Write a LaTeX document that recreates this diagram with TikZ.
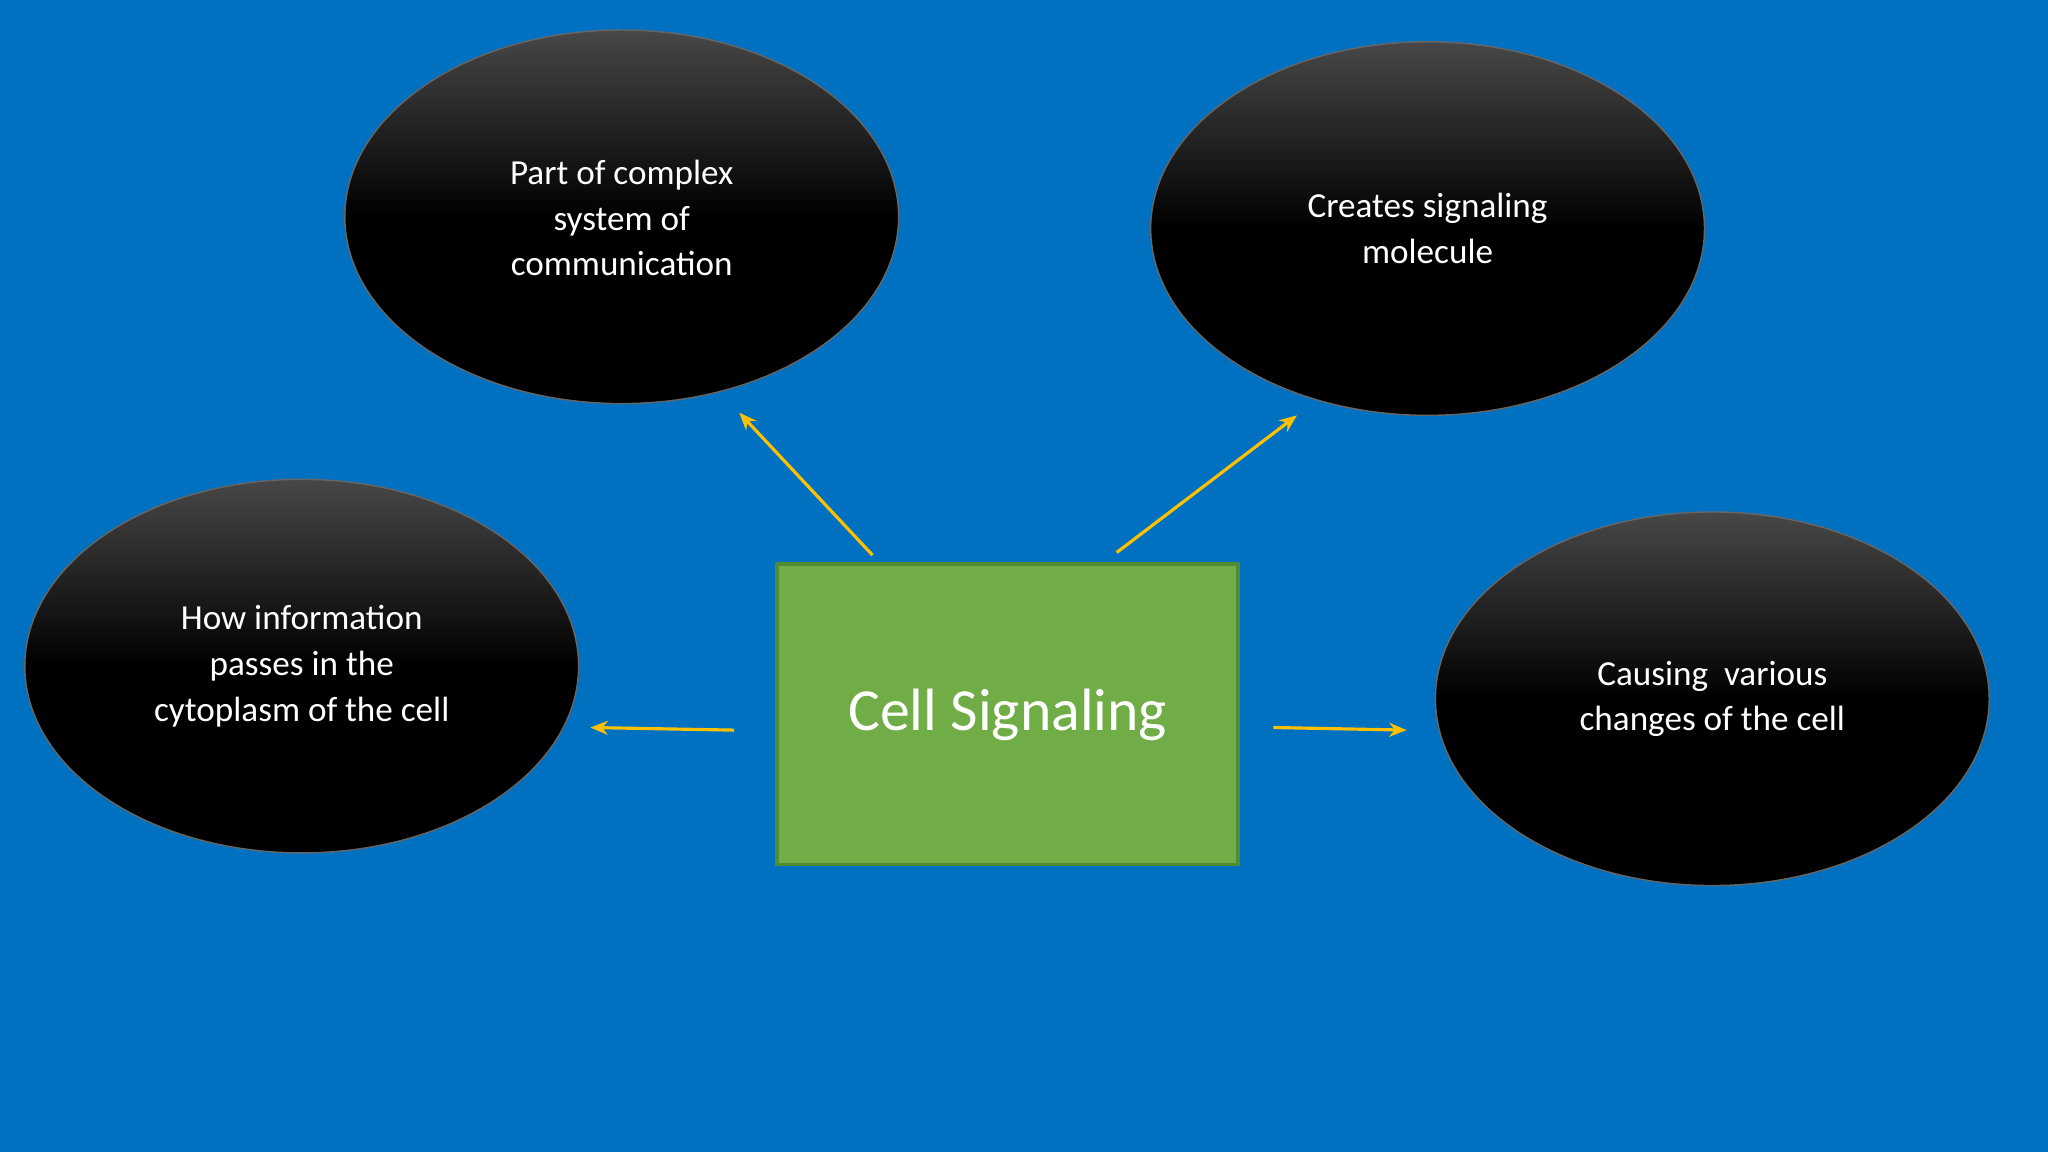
\documentclass[tikz,border=0pt]{standalone}
\usepackage{fontspec}
\setmainfont{Carlito}
\usetikzlibrary{shapes.geometric,arrows.meta}
\begin{document}
\begin{tikzpicture}[x=0.013061cm,y=-0.013061cm,
  btxt/.style={text=white,font=\fontsize{10pt}{13pt}\selectfont,align=center},
  arr/.style={draw={rgb,255:red,255;green,192;blue,0},line width=0.9pt,-{Stealth[length=5pt,width=4pt]}}]
\fill[fill={rgb,255:red,0;green,112;blue,192}] (0,0) rectangle (1568,882);
\useasboundingbox (0,0) rectangle (1568,882);
\foreach \x/\y in {476/166,1093/175,231/510,1311/535}{
  \shade[top color=black!72,bottom color=black,middle color=black,draw=black!60,line width=0.4pt]
    (\x,\y) ellipse [x radius=212,y radius=143];
}
\node[btxt] (e1) at (476,167) {Part of complex\\system of\\communication};
\node[btxt] (e2) at (1093,175) {Creates signaling\\molecule};
\node[btxt] (e3) at (231,510) {How information\\passes in the\\cytoplasm of the cell};
\node[btxt] (e4) at (1311,535) {Causing\ \ various\\changes of the cell};
\node[draw={rgb,255:red,80;green,140;blue,50},line width=1pt,fill={rgb,255:red,112;green,173;blue,71},
  minimum width=4.61cm,minimum height=3.004cm,
  text=white,font=\fontsize{17pt}{20pt}\selectfont] (c) at (771.5,547) {Cell Signaling};
\coordinate (a1s) at (668,425); \coordinate (a1e) at (566,316);
\coordinate (a2s) at (855,423); \coordinate (a2e) at (993,318);
\coordinate (a3s) at (562,559); \coordinate (a3e) at (452,557);
\coordinate (a4s) at (975,557); \coordinate (a4e) at (1077,559);
\draw[arr] (a1s) -- (a1e);
\draw[arr] (a2s) -- (a2e);
\draw[arr] (a3s) -- (a3e);
\draw[arr] (a4s) -- (a4e);
\end{tikzpicture}
\end{document}
